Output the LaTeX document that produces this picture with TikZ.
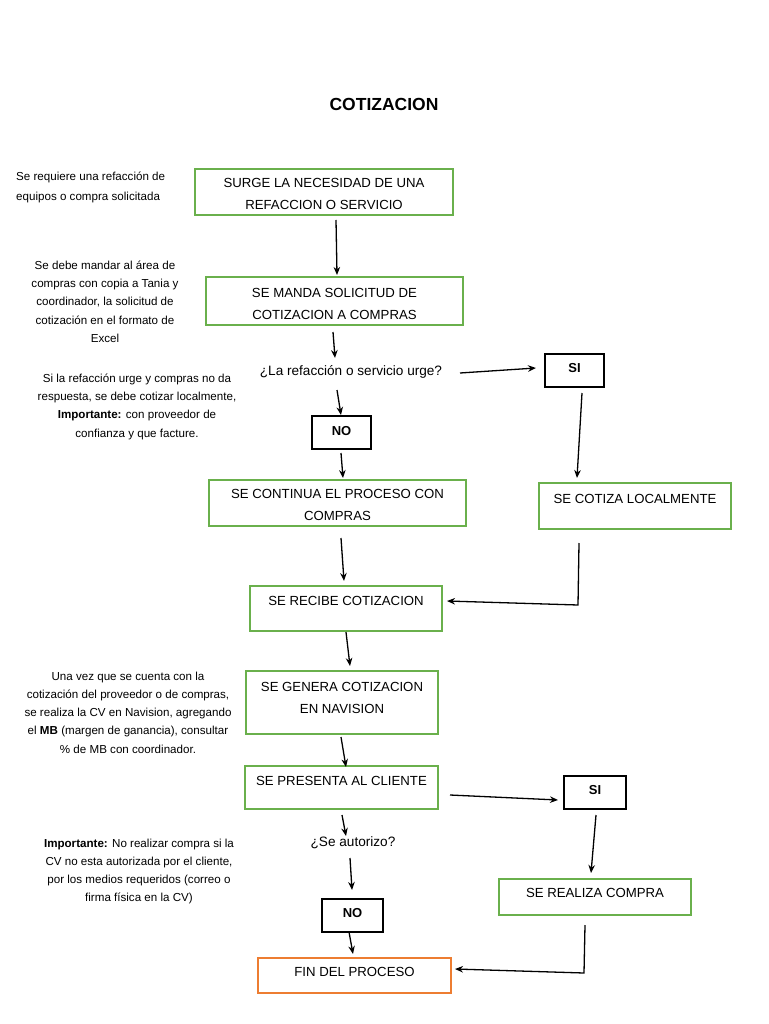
\documentclass[tikz,border=0pt]{standalone}
\usepackage{fontspec}
\setmainfont{Liberation Sans}
\usetikzlibrary{arrows.meta}
\definecolor{gr}{HTML}{6AB04C}
\definecolor{org}{HTML}{ED7D31}
\tikzset{
  gbox/.style={draw=gr, line width=1.4pt, inner sep=0pt},
  obox/.style={draw=org, line width=1.4pt, inner sep=0pt},
  kbox/.style={draw=black, line width=1.3pt, inner sep=0pt},
  ktxt/.style={inner sep=0pt, font=\fontsize{13}{15}\selectfont\bfseries},
  btxt/.style={inner sep=0pt, align=center, font=\fontsize{13.2}{22}\selectfont},
  qtxt/.style={inner sep=0pt, align=center, font=\fontsize{13.6}{16}\selectfont},
  note/.style={inner sep=0pt, align=center, font=\fontsize{11.6}{18.3}\selectfont},
  arr/.style={-{Stealth[length=8pt,width=6.5pt]}, line width=1.3pt}
}
\begin{document}
\begin{tikzpicture}[x=1pt,y=-1pt]
\useasboundingbox[fill=white] (0,0) rectangle (768,1024);

\node[inner sep=0pt, font=\fontsize{17.5}{20}\selectfont\bfseries] (title) at (384,104) {COTIZACION};

% boxes
\node[gbox, minimum width=258pt, minimum height=46pt] (b1) at (324,192) {};
\node[btxt] (t1) at (324,194) {SURGE LA NECESIDAD DE UNA\\REFACCION O SERVICIO};
\node[gbox, minimum width=257pt, minimum height=48pt] (b2) at (334.5,301) {};
\node[btxt] (t2) at (334.5,303.5) {SE MANDA SOLICITUD DE\\COTIZACION A COMPRAS};
\node[qtxt] (q1) at (351,372) {¿La refacción o servicio urge?};
\node[kbox, minimum width=59pt, minimum height=33pt] (si1) at (574.5,370.5) {};
\node[ktxt] (si1t) at (574.5,368) {SI};
\node[kbox, minimum width=59pt, minimum height=33pt] (no1) at (341.5,432.5) {};
\node[ktxt] (no1t) at (341.5,431) {NO};
\node[gbox, minimum width=192pt, minimum height=46pt] (b3) at (635,506) {};
\node[btxt] (t3) at (635,499) {SE COTIZA LOCALMENTE};
\node[gbox, minimum width=257pt, minimum height=46pt] (b4) at (337.5,503) {};
\node[btxt] (t4) at (337.5,505) {SE CONTINUA EL PROCESO CON\\COMPRAS};
\node[gbox, minimum width=192pt, minimum height=45pt] (b5) at (346,608.5) {};
\node[btxt] (t5) at (346,601) {SE RECIBE COTIZACION};
\node[gbox, minimum width=192pt, minimum height=63pt] (b6) at (342,702.5) {};
\node[btxt] (t6) at (342,697.5) {SE GENERA COTIZACION\\EN NAVISION};
\node[gbox, minimum width=193pt, minimum height=43pt] (b7) at (341.5,787.5) {};
\node[btxt] (t7) at (341.5,781) {SE PRESENTA AL CLIENTE};
\node[kbox, minimum width=62pt, minimum height=33pt] (si2) at (595,792.5) {};
\node[ktxt] (si2t) at (595,790) {SI};
\node[gbox, minimum width=192pt, minimum height=36pt] (b8) at (595,897) {};
\node[btxt] (t8) at (595,893) {SE REALIZA COMPRA};
\node[qtxt] (q2) at (353,843) {¿Se autorizo?};
\node[kbox, minimum width=61pt, minimum height=33pt] (no2) at (352.5,915.5) {};
\node[ktxt] (no2t) at (352.5,913) {NO};
\node[obox, minimum width=193pt, minimum height=35pt] (b9) at (354.5,975.5) {};
\node[btxt] (t9) at (354.5,972) {FIN DEL PROCESO};

% notes
\node[note, align=left, anchor=west, font=\fontsize{11.6}{20}\selectfont] (n1) at (16,187) {Se requiere una refacción de\\equipos o compra solicitada};
\node[note] (n2) at (105,301.5) {Se debe mandar al área de\\compras con copia a Tania y\\coordinador, la solicitud de\\cotización en el formato de\\Excel};
\node[note] (n3) at (137,406.5) {Si la refacción urge y compras no da\\respuesta, se debe cotizar localmente,\\\textbf{Importante:} con proveedor de\\confianza y que facture.};
\node[note] (n4) at (128,712.5) {Una vez que se cuenta con la\\cotización del proveedor o de compras,\\se realiza la CV en Navision, agregando\\el \textbf{MB} (margen de ganancia), consultar\\\% de MB con coordinador.};
\node[note] (n5) at (139,871.5) {\textbf{Importante:} No realizar compra si la\\CV no esta autorizada por el cliente,\\por los medios requeridos (correo o\\firma física en la CV)};

% connector endpoints
\coordinate (a1s) at (336,220); \coordinate (a1e) at (337,275);
\coordinate (a2s) at (333,332); \coordinate (a2e) at (335,358);
\coordinate (a3s) at (460,373); \coordinate (a3e) at (536,368);
\coordinate (a4s) at (582,393); \coordinate (a4e) at (577,478);
\coordinate (a5s) at (337,390); \coordinate (a5e) at (341,415);
\coordinate (a6s) at (341,453); \coordinate (a6e) at (343,478);
\coordinate (a7s) at (341,538); \coordinate (a7e) at (344,581);
\coordinate (a8s) at (579,543); \coordinate (a8m) at (578,605); \coordinate (a8e) at (447,601);
\coordinate (a9s) at (346,632); \coordinate (a9e) at (350,666);
\coordinate (a10s) at (341,737); \coordinate (a10e) at (346,767);
\coordinate (a11s) at (450,795); \coordinate (a11e) at (558,800);
\coordinate (a12s) at (596,815); \coordinate (a12e) at (591,873);
\coordinate (a13s) at (342,815); \coordinate (a13e) at (346,836);
\coordinate (a14s) at (350,858); \coordinate (a14e) at (352,890);
\coordinate (a15s) at (349,932); \coordinate (a15e) at (353,954);
\coordinate (a16s) at (585,925); \coordinate (a16m) at (584,973); \coordinate (a16e) at (455,969);

\draw[arr] (a1s) -- (a1e);
\draw[arr] (a2s) -- (a2e);
\draw[arr] (a3s) -- (a3e);
\draw[arr] (a4s) -- (a4e);
\draw[arr] (a5s) -- (a5e);
\draw[arr] (a6s) -- (a6e);
\draw[arr] (a7s) -- (a7e);
\draw[arr] (a8s) -- (a8m) -- (a8e);
\draw[arr] (a9s) -- (a9e);
\draw[arr] (a10s) -- (a10e);
\draw[arr] (a11s) -- (a11e);
\draw[arr] (a12s) -- (a12e);
\draw[arr] (a13s) -- (a13e);
\draw[arr] (a14s) -- (a14e);
\draw[arr] (a15s) -- (a15e);
\draw[arr] (a16s) -- (a16m) -- (a16e);
\end{tikzpicture}
\end{document}
